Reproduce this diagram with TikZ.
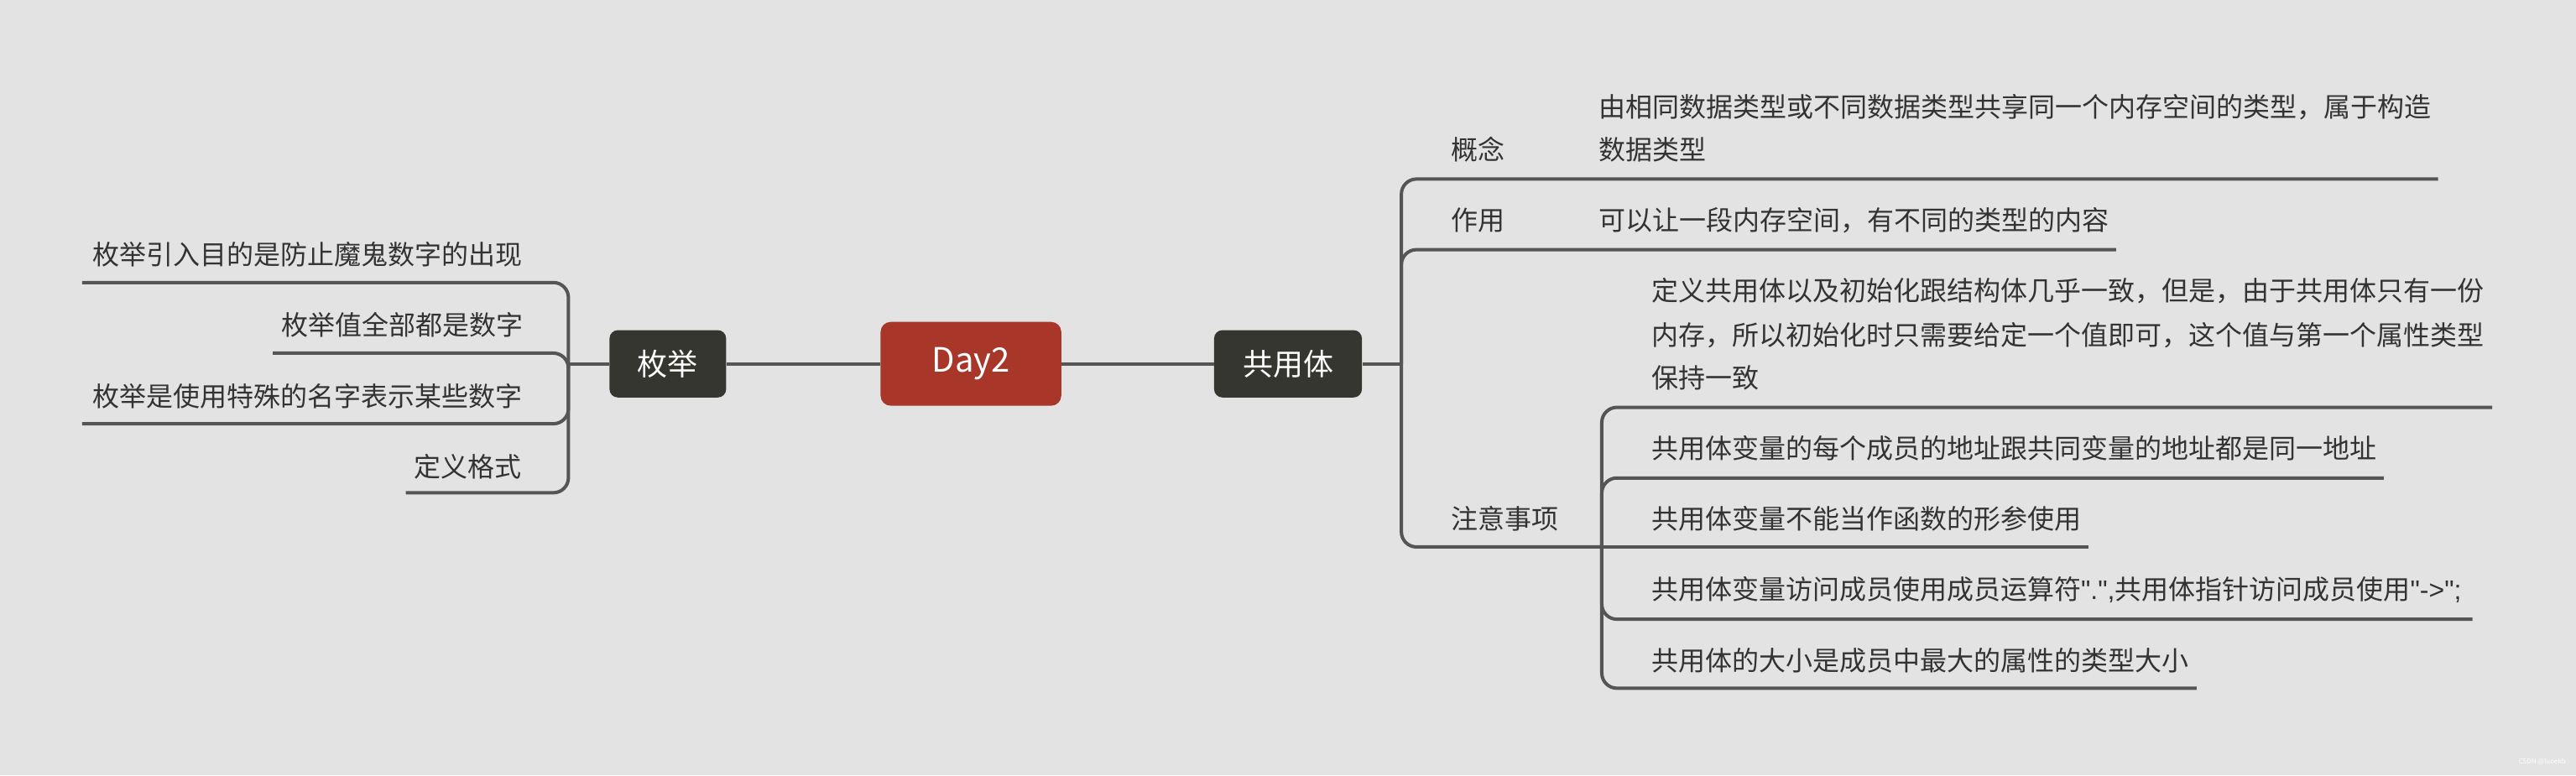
\documentclass[tikz,border=0pt]{standalone}
\usepackage{fontspec}
\setmainfont{Noto Sans CJK SC}
\newfontfamily\lat[Ligatures=NoCommon]{Liberation Sans}
\definecolor{bg}{HTML}{E3E3E3}
\definecolor{ln}{HTML}{555555}
\definecolor{dk}{HTML}{35362F}
\definecolor{rd}{HTML}{A8372A}
\definecolor{tx}{HTML}{333333}
\begin{document}
\begin{tikzpicture}[x=0.979pt,y=-0.979pt,
  br/.style={draw=ln,line width=2pt,rounded corners=9pt},
  txt/.style={anchor=west,inner sep=0pt,text=tx,font=\fontsize{16pt}{24pt}\selectfont},
  box/.style={fill=dk,rounded corners=5pt,text=white,font=\fontsize{18pt}{20pt}\selectfont,inner sep=0pt}]
\fill[bg] (0,0) rectangle (1568,472);
\useasboundingbox (0,0) rectangle (1568,472);
\node[fill=rd,rounded corners=6pt,text=white,minimum width=110pt*0.979,minimum height=51pt*0.979,inner sep=0pt,font=\fontsize{20pt}{22pt}\selectfont] (day) at (591,221.5) {Day2};
\node[box,minimum width=71pt*0.979,minimum height=41pt*0.979] (mj) at (406.5,221.5) {枚举};
\node[box,minimum width=90pt*0.979,minimum height=41pt*0.979] (gy) at (784,221.5) {共用体};
\draw[ln,line width=2pt] (mj.east) -- (day.west);
\draw[ln,line width=2pt] (day.east) -- (gy.west);
\coordinate (L) at (346,221.5);
\coordinate (R) at (853,221.5);
\draw[ln,line width=2pt] (mj.west) -- (L);
\draw[ln,line width=2pt] (gy.east) -- (R);
\draw[br] (L) -- (346,172) -- (50,172);
\draw[br] (L) -- (346,215) -- (166,215);
\draw[br] (L) -- (346,258) -- (50,258);
\draw[br] (L) -- (346,300) -- (247,300);
\node[txt] (l1) at (56,155) {枚举引入目的是防止魔鬼数字的出现};
\node[txt] (l2) at (171,198) {枚举值全部都是数字};
\node[txt] (l3) at (56,241) {枚举是使用特殊的名字表示某些数字};
\node[txt] (l4) at (252,284) {定义格式};
\draw[br] (R) -- (853,109) -- (1484,109);
\draw[br] (R) -- (853,152) -- (1288,152);
\draw[br] (R) -- (853,333) -- (975,333);
\node[txt] (r1) at (883,91) {概念};
\node[txt] (r2) at (883,134) {作用};
\node[txt] (r3) at (883,316) {注意事项};
\node[txt] (t1a) at (973,65) {由相同数据类型或不同数据类型共享同一个内存空间的类型，属于构造};
\node[txt] (t1b) at (973,91) {数据类型};
\node[txt] (t2) at (973,134) {可以让一段内存空间，有不同的类型的内容};
\coordinate (S) at (975,333);
\draw[br] (S) -- (975,248) -- (1517,248);
\draw[br] (S) -- (975,291) -- (1451,291);
\draw[ln,line width=2pt] (975,333) -- (1271,333);
\draw[br] (S) -- (975,377) -- (1505,377);
\draw[br] (S) -- (975,419) -- (1337,419);
\node[txt] (n1a) at (1005,177) {定义共用体以及初始化跟结构体几乎一致，但是，由于共用体只有一份};
\node[txt] (n1b) at (1005,204) {内存，所以初始化时只需要给定一个值即可，这个值与第一个属性类型};
\node[txt] (n1c) at (1005,230) {保持一致};
\node[txt] (n2) at (1005,273) {共用体变量的每个成员的地址跟共同变量的地址都是同一地址};
\node[txt] (n3) at (1005,316) {共用体变量不能当作函数的形参使用};
\node[txt] (n4) at (1005,359) {共用体变量访问成员使用成员运算符{\lat\char`\".\char`\",}共用体指针访问成员使用{\lat\char`\"-{}>\char`\";}};
\node[txt] (n5) at (1005,402) {共用体的大小是成员中最大的属性的类型大小};
\node[anchor=east,inner sep=0pt,text=white,font=\fontsize{4pt}{5pt}\selectfont] (wm) at (1562,464) {CSDN @Iuoekb};
\end{tikzpicture}
\end{document}
